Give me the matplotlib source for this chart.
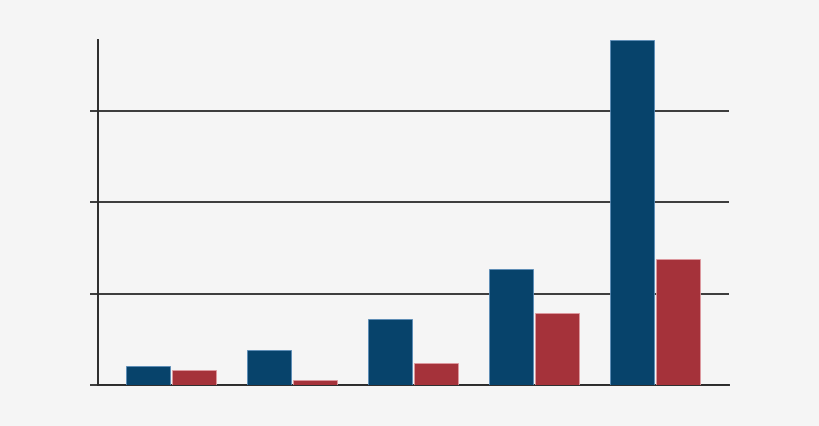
import matplotlib
matplotlib.use("Agg")
import matplotlib.pyplot as plt
import numpy as np

categories = ["1", "2", "3", "4", "5"]
series_blue = [0.205, 0.384, 0.723, 1.275, 3.78]
series_red = [0.164, 0.052, 0.244, 0.789, 1.384]
yticks = [0, 1, 2, 3]

bg = "#f5f5f5"
fig = plt.figure(figsize=(8.2, 4.26), dpi=100, facecolor=bg)
ax = fig.add_axes([98/820, 41/426, 631/820, 345/426])
ax.set_facecolor(bg)

x = np.arange(len(categories))
w = 0.364
ax.bar(x - 0.19, series_blue, w, color="#07436b", edgecolor="#5a8cb8", linewidth=0.6, zorder=3)
ax.bar(x + 0.19, series_red, w, color="#a5323a", edgecolor="#e09aa0", linewidth=0.6, zorder=3)

ax.set_xlim(-0.6038, 4.615)
ax.set_ylim(0, 3.78)
ax.set_yticks(yticks)
ax.set_yticklabels([])
ax.set_xticks([])
ax.yaxis.grid(True, color="#2b2b2b", linewidth=1.3, zorder=0)
ax.set_axisbelow(True)
ax.tick_params(axis="y", length=6, width=1.3, color="#2b2b2b", direction="out")
for s in ["top", "right"]:
    ax.spines[s].set_visible(False)
ax.spines["left"].set_color("#2b2b2b")
ax.spines["left"].set_linewidth(1.4)
ax.spines["bottom"].set_color("#2b2b2b")
ax.spines["bottom"].set_linewidth(1.4)

fig.savefig("out.png", dpi=100, facecolor=bg)
